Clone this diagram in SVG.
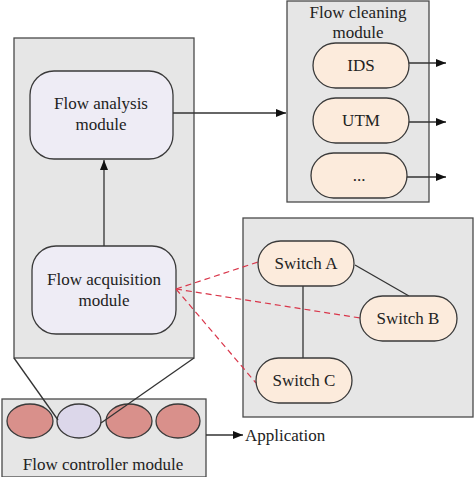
<svg xmlns="http://www.w3.org/2000/svg" width="474" height="477" viewBox="0 0 474 477">
<style>
.box{fill:#e6e6e6;stroke:#4a4a4a;stroke-width:1.3}
.mod{fill:#eeecf5;stroke:#3a3a3a;stroke-width:1.3}
.pill{fill:#fcebdc;stroke:#3a3a3a;stroke-width:1.3}
.red{fill:#d9908b;stroke:#3a3a3a;stroke-width:1.3}
.lav{fill:#dcd7ea;stroke:#3a3a3a;stroke-width:1.3}
text{font-family:"Liberation Serif","DejaVu Serif",serif;font-size:17px;fill:#222;text-anchor:middle}
.ln{stroke:#333;stroke-width:1.3;fill:none}
.dash{stroke:#d9364a;stroke-width:1.2;fill:none;stroke-dasharray:6 4}
</style>
<defs>
<marker id="ah" markerWidth="10" markerHeight="8" refX="10" refY="4" orient="auto" markerUnits="userSpaceOnUse">
<path d="M0,0 L10,4 L0,8 Z" fill="#111"/>
</marker>
</defs>
<rect width="474" height="477" fill="#fff"/>
<g id="main-box"><rect class="box" x="14" y="38" width="180" height="320"/></g>
<g id="flow-analysis"><rect class="mod" x="30" y="71" width="143" height="88" rx="24"/><text x="101" y="109">Flow analysis</text><text x="101" y="130">module</text></g>
<g id="flow-acquisition"><rect class="mod" x="32" y="246" width="144" height="88" rx="24"/><text x="104" y="285">Flow acquisition</text><text x="104" y="306">module</text></g>
<g id="cleaning-box"><rect class="box" x="287" y="1" width="142" height="201"/><text x="358" y="18">Flow cleaning</text><text x="358" y="38">module</text></g>
<g id="ids"><rect class="pill" x="313" y="43" width="96" height="45" rx="22.5"/><text x="361" y="71">IDS</text></g>
<g id="utm"><rect class="pill" x="313" y="98" width="96" height="45" rx="22.5"/><text x="361" y="126">UTM</text></g>
<g id="etc"><rect class="pill" x="311" y="153" width="96" height="45" rx="22.5"/><text x="359" y="181">...</text></g>
<g id="switch-box"><rect class="box" x="243" y="218" width="230" height="199"/></g>
<g id="controller-box"><rect class="box" x="2" y="399" width="204" height="78"/><text x="103" y="470">Flow controller module</text></g>
<g id="ctrl1"><ellipse class="red" cx="30" cy="421" rx="23" ry="17"/></g>
<g id="ctrl2"><ellipse class="lav" cx="79" cy="421" rx="22" ry="17"/></g>
<g id="ctrl3"><ellipse class="red" cx="129" cy="421" rx="23" ry="17"/></g>
<g id="ctrl4"><ellipse class="red" cx="178" cy="421" rx="22" ry="17"/></g>
<g id="connectors">
<line class="ln" x1="104" y1="246" x2="104" y2="160" marker-end="url(#ah)"/>
<line class="ln" x1="173" y1="113" x2="286" y2="113" marker-end="url(#ah)"/>
<line class="ln" x1="409" y1="63" x2="446" y2="63" marker-end="url(#ah)"/>
<line class="ln" x1="409" y1="122" x2="446" y2="122" marker-end="url(#ah)"/>
<line class="ln" x1="407" y1="177" x2="446" y2="177" marker-end="url(#ah)"/>
<line class="ln" x1="355" y1="265" x2="409" y2="296"/>
<line class="ln" x1="303" y1="286" x2="303" y2="358"/>
<line class="dash" x1="176" y1="289" x2="258" y2="262"/>
<line class="dash" x1="176" y1="289" x2="360" y2="318"/>
<line class="dash" x1="176" y1="289" x2="256" y2="383"/>
<line class="ln" x1="14" y1="358" x2="58" y2="420"/>
<line class="ln" x1="194" y1="358" x2="101" y2="423"/>
<line class="ln" x1="206" y1="435" x2="243" y2="435" marker-end="url(#ah)"/>
</g>
<g id="switch-a"><rect class="pill" x="258" y="241" width="96" height="45" rx="22.5"/><text x="306" y="269">Switch A</text></g>
<g id="switch-b"><rect class="pill" x="360" y="296" width="97" height="45" rx="22.5"/><text x="408" y="324">Switch B</text></g>
<g id="switch-c"><rect class="pill" x="256" y="358" width="96" height="45" rx="22.5"/><text x="304" y="386">Switch C</text></g>
<text x="245" y="441" style="text-anchor:start">Application</text>
</svg>
